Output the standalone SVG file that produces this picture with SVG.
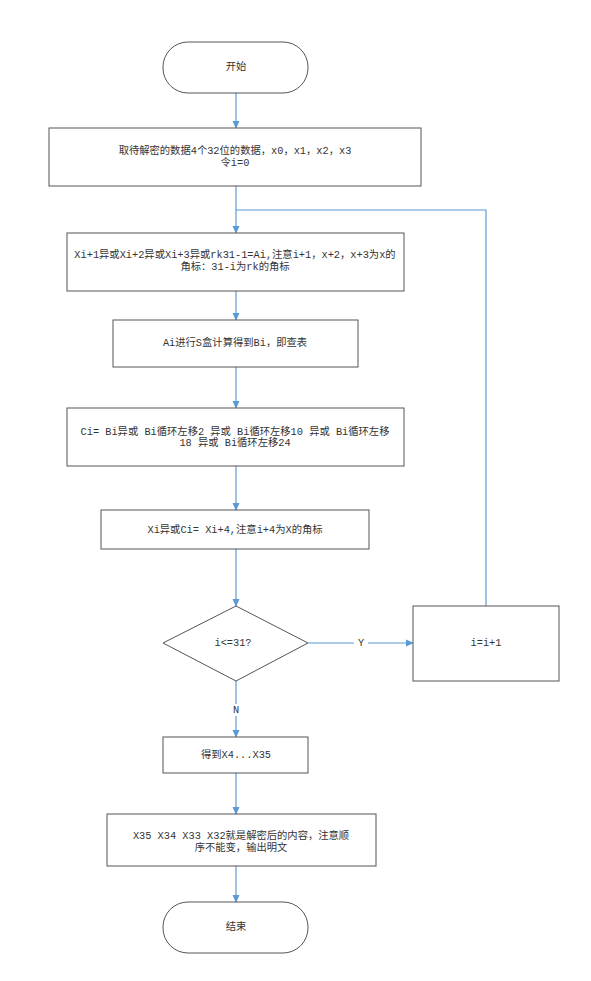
<svg xmlns="http://www.w3.org/2000/svg" width="591" height="981" viewBox="0 0 591 981">
<defs>
<marker id="arr" markerWidth="8" markerHeight="8" refX="7" refY="4" orient="auto" markerUnits="userSpaceOnUse">
<path d="M0,0.5 L8,4 L0,7.5 Z" fill="#5b9bd5"/>
</marker>
</defs>
<style>
.box{fill:#fff;stroke:#555;stroke-width:1}
.t{font-family:"Liberation Mono","Noto Sans CJK SC",monospace;font-size:10.3px;fill:#333;text-anchor:middle;dominant-baseline:central}
.c{fill:none;stroke:#5b9bd5;stroke-width:1.2}
</style>
<rect width="591" height="981" fill="#fff"/>
<g id="connectors">
<line class="c" x1="236" y1="93" x2="236" y2="128" marker-end="url(#arr)"/>
<line class="c" x1="236" y1="186" x2="236" y2="233" marker-end="url(#arr)"/>
<line class="c" x1="236" y1="291" x2="236" y2="320" marker-end="url(#arr)"/>
<line class="c" x1="236" y1="367" x2="236" y2="408" marker-end="url(#arr)"/>
<line class="c" x1="236" y1="466" x2="236" y2="510" marker-end="url(#arr)"/>
<line class="c" x1="236" y1="549" x2="236" y2="606" marker-end="url(#arr)"/>
<line class="c" x1="308" y1="643" x2="413" y2="643" marker-end="url(#arr)"/>
<polyline class="c" points="486,606 486,210 236,210"/>
<line class="c" x1="236" y1="681" x2="236" y2="737" marker-end="url(#arr)"/>
<line class="c" x1="236" y1="773" x2="236" y2="814" marker-end="url(#arr)"/>
<line class="c" x1="236" y1="866" x2="236" y2="902" marker-end="url(#arr)"/>
<rect x="354" y="637" width="14" height="12" fill="#fff"/>
<text class="t" x="361" y="643">Y</text>
<rect x="229" y="704" width="14" height="12" fill="#fff"/>
<text class="t" x="236" y="710">N</text>
</g>
<g id="start">
<rect class="box" x="163" y="42" width="145" height="51" rx="25" ry="25"/>
<text class="t" x="236" y="67">开始</text>
</g>
<g id="read">
<rect class="box" x="49" y="128" width="372" height="58"/>
<text class="t" x="235" y="151">取待解密的数据4个32位的数据，x0，x1，x2，x3</text>
<text class="t" x="235" y="163">令i=0</text>
</g>
<g id="xor">
<rect class="box" x="67" y="233" width="337" height="58"/>
<text class="t" x="235" y="255">Xi+1异或Xi+2异或Xi+3异或rk31-1=Ai,注意i+1，x+2，x+3为x的</text>
<text class="t" x="235" y="267">角标：31-i为rk的角标</text>
</g>
<g id="sbox">
<rect class="box" x="113" y="320" width="245" height="47"/>
<text class="t" x="235" y="343">Ai进行S盒计算得到Bi，即查表</text>
</g>
<g id="ci">
<rect class="box" x="67" y="408" width="337" height="58"/>
<text class="t" x="235" y="432">Ci= Bi异或 Bi循环左移2 异或 Bi循环左移10 异或 Bi循环左移</text>
<text class="t" x="235" y="443">18 异或 Bi循环左移24</text>
</g>
<g id="xi4">
<rect class="box" x="101" y="510" width="268" height="39"/>
<text class="t" x="235" y="530">Xi异或Ci= Xi+4,注意i+4为X的角标</text>
</g>
<g id="cond">
<polygon class="box" points="236,606 308,643 236,681 163,643"/>
<text class="t" x="233" y="643">i&lt;=31?</text>
</g>
<g id="inc">
<rect class="box" x="413" y="606" width="146" height="75"/>
<text class="t" x="486" y="643">i=i+1</text>
</g>
<g id="got">
<rect class="box" x="163" y="737" width="145" height="36"/>
<text class="t" x="236" y="755">得到X4...X35</text>
</g>
<g id="out">
<rect class="box" x="107" y="814" width="269" height="52"/>
<text class="t" x="241" y="836">X35 X34 X33 X32就是解密后的内容，注意顺</text>
<text class="t" x="241" y="848">序不能变，输出明文</text>
</g>
<g id="end">
<rect class="box" x="163" y="902" width="145" height="51" rx="25" ry="25"/>
<text class="t" x="236" y="927">结束</text>
</g>
</svg>
